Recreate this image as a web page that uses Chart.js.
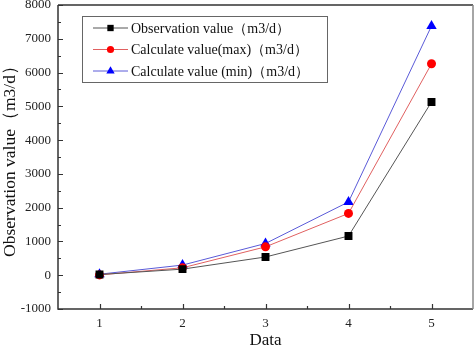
<!DOCTYPE html>
<html>
<head>
<meta charset="utf-8">
<script src="https://cdn.jsdelivr.net/npm/chart.js@4/dist/chart.umd.min.js"></script>
<style>
  html, body { margin: 0; padding: 0; background: #fff; }
  #wrap { width: 474px; height: 351px; }
</style>
</head>
<body>
<div id="wrap"><canvas id="c" width="474" height="351"></canvas></div>
<script>
// values
const categories = ["1", "2", "3", "4", "5"];
const observed = [20, 180, 540, 1160, 5130];
const calcMax = [10, 220, 840, 1830, 6260];
const calcMin = [30, 300, 940, 2170, 7380];
const seriesNames = [
  "Observation value（m3/d）",
  "Calculate value(max)（m3/d）",
  "Calculate value (min)（m3/d）"
];

const SERIF = "'Liberation Serif', 'Times New Roman', serif";

// frame, inward ticks and the boxed legend inside the plot
const framePlugin = {
  id: "frame",
  afterDraw(chart) {
    const ctx = chart.ctx;
    const a = chart.chartArea;
    const xs = chart.scales.x;
    const ys = chart.scales.y;
    ctx.save();
    ctx.strokeStyle = "#333";
    ctx.lineWidth = 1.5;
    ctx.beginPath();
    ctx.moveTo(a.left, a.top);
    ctx.lineTo(a.right, a.top);
    ctx.moveTo(a.left, a.top);
    ctx.lineTo(a.left, a.bottom);
    ctx.lineTo(a.right, a.bottom);
    ctx.stroke();
    ctx.strokeStyle = "#888";
    ctx.beginPath();
    ctx.moveTo(a.right, a.top);
    ctx.lineTo(a.right, a.bottom);
    ctx.stroke();

    ctx.strokeStyle = "#333";
    ctx.lineWidth = 1.2;
    ctx.beginPath();
    // y major + minor ticks
    for (let v = -1000; v <= 8000; v += 500) {
      const y = Math.round(ys.getPixelForValue(v)) + 0.5;
      const len = v % 1000 === 0 ? 5 : 3;
      ctx.moveTo(a.left, y);
      ctx.lineTo(a.left + len, y);
    }
    // x major + minor ticks
    for (let i = 0; i < categories.length; i++) {
      const x = Math.round(xs.getPixelForValue(i)) + 0.5;
      ctx.moveTo(x, a.bottom);
      ctx.lineTo(x, a.bottom - 5);
      if (i < categories.length - 1) {
        const xm = Math.round((xs.getPixelForValue(i) + xs.getPixelForValue(i + 1)) / 2) + 0.5;
        ctx.moveTo(xm, a.bottom);
        ctx.lineTo(xm, a.bottom - 3);
      }
    }
    ctx.stroke();

    // legend box
    const bx = 82, by = 16, bw = 245, bh = 66;
    ctx.strokeStyle = "#666";
    ctx.lineWidth = 1;
    ctx.strokeRect(bx + 0.5, by + 0.5, bw, bh);
    ctx.font = "14px " + SERIF;
    ctx.textBaseline = "middle";
    chart.data.datasets.forEach((ds, i) => {
      const y = by + 12 + i * 21.5;
      ctx.strokeStyle = ds.borderColor;
      ctx.lineWidth = 1;
      ctx.beginPath();
      ctx.moveTo(93, y);
      ctx.lineTo(128, y);
      ctx.stroke();
      ctx.fillStyle = ds.pointBackgroundColor;
      ctx.strokeStyle = ds.pointBackgroundColor;
      Chart.helpers.drawPoint(ctx, {
        pointStyle: ds.pointStyle,
        radius: ds.pointRadius * 0.8,
        rotation: 0,
        borderWidth: 0
      }, 110.5, y);
      ctx.fillStyle = "#111";
      ctx.fillText(seriesNames[i], 131, y + 1);
    });
    ctx.restore();
  }
};

function makeSet(label, data, line, fill, style, radius) {
  return {
    label: label,
    data: data,
    borderColor: line,
    borderWidth: 1,
    backgroundColor: fill,
    pointBackgroundColor: fill,
    pointBorderColor: fill,
    pointBorderWidth: 0,
    pointStyle: style,
    pointRadius: radius,
    tension: 0
  };
}

new Chart(document.getElementById("c"), {
  type: "line",
  data: {
    labels: categories,
    datasets: [
      makeSet(seriesNames[0], observed, "#555", "#000", "rect", 5.6),
      makeSet(seriesNames[1], calcMax, "#e06060", "#ff0000", "circle", 4.5),
      makeSet(seriesNames[2], calcMin, "#5a5ad8", "#0000ff", "triangle", 6)
    ]
  },
  options: {
    responsive: false,
    animation: false,
    layout: { autoPadding: false, padding: { top: 5, right: 1, left: 0, bottom: 0 } },
    plugins: {
      legend: { display: false },
      tooltip: { enabled: false }
    },
    scales: {
      x: {
        type: "category",
        offset: true,
        grid: { display: false, drawTicks: false },
        border: { display: false },
        ticks: { color: "#222", font: { family: SERIF, size: 13 }, padding: 7 },
        title: {
          display: true,
          text: "Data",
          color: "#111",
          font: { family: SERIF, size: 17 },
          padding: { top: 6, bottom: 0 }
        },
        afterFit(s) {
          s.height = 42;
          s.paddingLeft = 0;
          s.paddingRight = 0;
        }
      },
      y: {
        min: -1000,
        max: 8000,
        grid: { display: false, drawTicks: false },
        border: { display: false },
        ticks: {
          stepSize: 1000,
          color: "#222",
          font: { family: SERIF, size: 13 },
          padding: 7,
          callback: (v) => String(v)
        },
        title: {
          display: true,
          text: "Observation value（m3/d）",
          color: "#111",
          font: { family: SERIF, size: 17.5 },
          padding: { top: 0, bottom: 3 }
        },
        afterFit(s) {
          s.width = 58;
          s.paddingTop = 0;
          s.paddingBottom = 0;
        }
      }
    }
  },
  plugins: [framePlugin]
});
</script>
</body>
</html>
